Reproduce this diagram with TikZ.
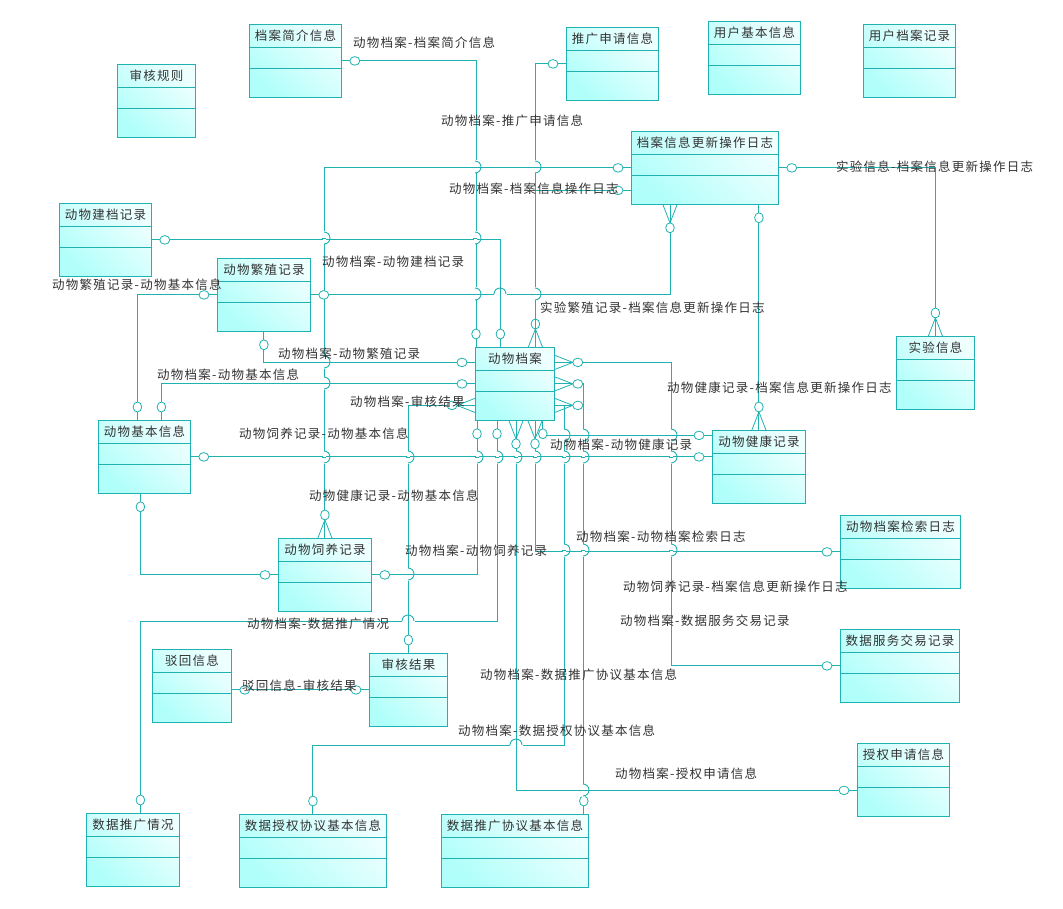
\documentclass[tikz,border=0pt]{standalone}
\usepackage{fontspec}
\newfontfamily\cjk[LetterSpace=10]{Noto Sans CJK SC}
\usetikzlibrary{calc, decorations.markings}
\definecolor{lineC}{RGB}{32,178,178}
\definecolor{boxA}{RGB}{238,255,255}
\definecolor{boxB}{RGB}{176,255,250}
\definecolor{txtC}{RGB}{50,50,50}

\begin{document}
\begin{tikzpicture}[x=1pt, y=-1pt,
  entity/.style={draw=lineC, line width=0.8pt, anchor=north west, inner sep=0pt,
    minimum height=73pt, text height=16pt, text depth=57pt,
    font=\cjk\fontsize{12.5}{14}\selectfont, text=txtC,
    left color=boxA, right color=boxB, shading angle=-45,
    path picture={\draw[lineC, line width=0.8pt]
      ([yshift=-23pt]path picture bounding box.north west) -- ([yshift=-23pt]path picture bounding box.north east)
      ([yshift=-44pt]path picture bounding box.north west) -- ([yshift=-44pt]path picture bounding box.north east);}},
  rel/.style={draw=lineC, line width=0.9pt},
  lab/.style={anchor=west, inner sep=0pt, font=\cjk\fontsize{12.5}{14}\selectfont, text=txtC},
  o start/.style={postaction={decorate, decoration={markings,
    mark=at position 13pt with {\draw[lineC, fill=white, line width=0.8pt] (0,0) ellipse[x radius=5pt, y radius=4.3pt];}}}},
  o end/.style={postaction={decorate, decoration={markings,
    mark=at position -13pt with {\draw[lineC, fill=white, line width=0.8pt] (0,0) ellipse[x radius=5pt, y radius=4.3pt];}}}},
  crow start/.style={postaction={decorate, decoration={markings,
    mark=at position 0.1pt with {\draw[lineC, line width=0.8pt] (0,7pt) -- (18pt,0) -- (0,-7pt);},
    mark=at position 23pt with {\draw[lineC, fill=white, line width=0.8pt] (0,0) ellipse[x radius=5pt, y radius=4.3pt];}}}},
  crow end/.style={postaction={decorate, decoration={markings,
    mark=at position -23pt with {\draw[lineC, fill=white, line width=0.8pt] (0,0) ellipse[x radius=5pt, y radius=4.3pt];},
    mark=at position -0.1pt with {\draw[lineC, line width=0.8pt] (0,7pt) -- (-18pt,0) -- (0,-7pt);}}}}
]
\useasboundingbox (0,0) rectangle (1063,909);

% entities
\node[entity, minimum width=78pt] (shenhegz) at (117,64) {审核规则};
\node[entity, minimum width=92pt] (jianjie) at (249,24) {档案简介信息};
\node[entity, minimum width=92pt] (tuiguangsq) at (566,27) {推广申请信息};
\node[entity, minimum width=92pt] (yonghujb) at (708,21) {用户基本信息};
\node[entity, minimum width=92pt] (yonghuda) at (863,24) {用户档案记录};
\node[entity, minimum width=147pt] (rizhi) at (631,131) {档案信息更新操作日志};
\node[entity, minimum width=92pt] (jiandang) at (59,203) {动物建档记录};
\node[entity, minimum width=93pt] (fanzhi) at (217,258) {动物繁殖记录};
\node[entity, minimum width=78pt] (shiyan) at (896,336) {实验信息};
\node[entity, minimum width=79pt] (dangan) at (475,347) {动物档案};
\node[entity, minimum width=92pt] (jiben) at (98,420) {动物基本信息};
\node[entity, minimum width=93pt] (jiankang) at (712,430) {动物健康记录};
\node[entity, minimum width=120pt] (jiansuo) at (840,515) {动物档案检索日志};
\node[entity, minimum width=93pt] (siyang) at (278,538) {动物饲养记录};
\node[entity, minimum width=119pt] (jiaoyi) at (840,629) {数据服务交易记录};
\node[entity, minimum width=79pt] (bohui) at (152,649) {驳回信息};
\node[entity, minimum width=78pt] (jieguo) at (369,653) {审核结果};
\node[entity, minimum width=92pt] (shouquansq) at (857,743) {授权申请信息};
\node[entity, minimum width=93pt] (tgqk) at (86,813) {数据推广情况};
\node[entity, minimum width=147pt] (sqxy) at (239,814) {数据授权协议基本信息};
\node[entity, minimum width=147pt] (tgxy) at (441,814) {数据推广协议基本信息};

% relations
\draw[rel, o start, o end] (jianjie.east) -| ([xshift=1pt]dangan.north west);
\draw[rel, o start, crow end] (tuiguangsq.west) -| ([xshift=20.5pt]dangan.north);
\draw[rel, o start] ([yshift=-22.5pt]rizhi.west) -| ([xshift=20.5pt]dangan.north);
\draw[rel, o start, crow end] (rizhi.west) -| (siyang.north);
\draw[rel, o start, o end] (jiandang.east) -| ([xshift=-14.5pt]dangan.north);
\draw[rel, o start, crow end] (fanzhi.east) -| ([xshift=39pt]rizhi.south west);
\draw[rel, o start, o end] (fanzhi.west) -| ([xshift=-7pt]jiben.north);
\draw[rel, o start, o end] (fanzhi.south) |- ([yshift=21.5pt]dangan.west);
\draw[rel, o start, o end] ([xshift=17pt]jiben.north) |- (dangan.west);
\draw[rel, crow start, o end] ([yshift=-21.5pt]dangan.west) -| (jieguo.north);
\draw[rel, o start, o end] (jiben.east) -- (jiben.east -| jiankang.west);
\draw[rel, o start, o end] ([xshift=-4pt]jiben.south) |- (siyang.west);
\draw[rel, o start, o end] ([xshift=2pt]dangan.south west) |- (siyang.east);
\draw[rel, o start, o end] ([xshift=22pt]dangan.south west) -- ++(0,201) -| ([xshift=7.5pt]tgqk.north);
\draw[rel, crow start, o end] ([xshift=41pt]dangan.south west) |- ([yshift=-10.5pt]shouquansq.west);
\draw[rel, crow start, o end] ([xshift=60pt]dangan.south west) |- (jiansuo.west);
\draw[rel, o start, o end] ([yshift=31.5pt]jiankang.west) -| ([xshift=-12pt]dangan.south east);
\draw[rel, crow start, o end] ([yshift=21.5pt]dangan.east) -| ([xshift=-169pt]jiaoyi.west) -- (jiaoyi.west);
\draw[rel, crow start, o end] (dangan.east) -| ([xshift=-5pt]tgxy.north east);
\draw[rel, crow start, o end] ([yshift=-21.5pt]dangan.east) -- ++(26,0) -- ++(-16,0) -- ++(0,340) -| (sqxy.north);
\draw[rel, o start, crow end] (rizhi.east) -| (shiyan.north);
\draw[rel, o start, crow end] (rizhi.south -| jiankang.north) -- (jiankang.north);
\draw[rel, o start, o end] (bohui.east |- jieguo.west) -- (jieguo.west);

% line hops
\foreach \hx/\hy in {475/167, 535/167, 475/238, 324/238, 475/294, 535/294,
    324/362, 324/383, 324/457, 408/457, 477/457, 497/457, 516/457, 535/457,
    564/435, 564/457, 564/550, 583/435, 583/457, 583/550, 583/790,
    671/435, 671/457, 671/550, 408/574}{
  \fill[white] (\hx-1.5,\hy-6.5) rectangle (\hx+1.5,\hy+6.5);
  \draw[rel] (\hx-2,\hy) -- (\hx+2,\hy);
  \draw[rel] (\hx,\hy-6) arc[start angle=90, end angle=-90, radius=6pt];
}
\foreach \hx/\hy in {500/294, 408/621, 516/745}{
  \fill[white] (\hx-6.5,\hy-1.5) rectangle (\hx+6.5,\hy+1.5);
  \draw[rel] (\hx,\hy-2) -- (\hx,\hy+2);
  \draw[rel] (\hx-6,\hy) arc[start angle=180, end angle=0, radius=6pt];
}

% relation names
\node[lab] (l1) at (353,43) {动物档案-档案简介信息};
\node[lab] (l2) at (441,121) {动物档案-推广申请信息};
\node[lab] (l3) at (449,189) {动物档案-档案信息操作日志};
\node[lab] (l4) at (836,167) {实验信息-档案信息更新操作日志};
\node[lab] (l5) at (322,262) {动物档案-动物建档记录};
\node[lab] (l6) at (52,285) {动物繁殖记录-动物基本信息};
\node[lab] (l7) at (540,308) {实验繁殖记录-档案信息更新操作日志};
\node[lab] (l8) at (278,354) {动物档案-动物繁殖记录};
\node[lab] (l9) at (157,375) {动物档案-动物基本信息};
\node[lab] (l10) at (667,388) {动物健康记录-档案信息更新操作日志};
\node[lab] (l11) at (350,402) {动物档案-审核结果};
\node[lab] (l12) at (239,434) {动物饲养记录-动物基本信息};
\node[lab] (l13) at (550,445) {动物档案-动物健康记录};
\node[lab] (l14) at (309,496) {动物健康记录-动物基本信息};
\node[lab] (l15) at (576,537) {动物档案-动物档案检索日志};
\node[lab] (l16) at (405,551) {动物档案-动物饲养记录};
\node[lab] (l17) at (623,587) {动物饲养记录-档案信息更新操作日志};
\node[lab] (l18) at (620,621) {动物档案-数据服务交易记录};
\node[lab] (l19) at (247,624) {动物档案-数据推广情况};
\node[lab] (l20) at (480,675) {动物档案-数据推广协议基本信息};
\node[lab] (l21) at (242,686) {驳回信息-审核结果};
\node[lab] (l22) at (458,731) {动物档案-数据授权协议基本信息};
\node[lab] (l23) at (615,774) {动物档案-授权申请信息};
\end{tikzpicture}
\end{document}
